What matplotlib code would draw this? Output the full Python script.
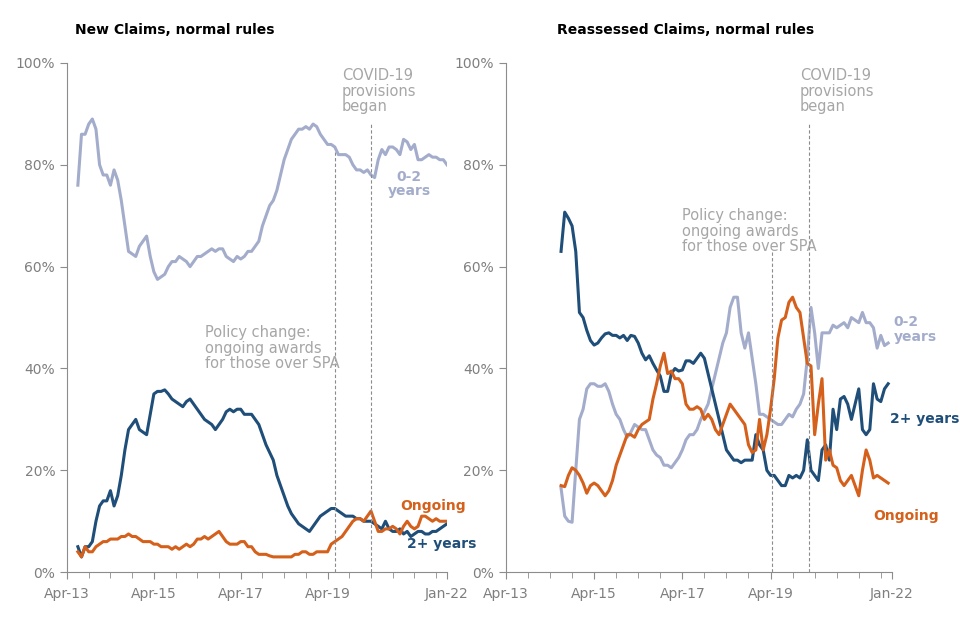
import numpy as np
import matplotlib
matplotlib.use("Agg")
import matplotlib.pyplot as plt

# months since Apr-13
left_months = list(range(3, 106))
left_0_2 = [76,86,86,88,89,87,80,78,78,76,79,77,73,68,63,62.5,62,64,65,66,62,59,57.5,58,58.5,60,61,61,62,61.5,61,60,61,62,62,62.5,63,63.5,63,63.5,63.5,62,61.5,61,62,61.5,62,63,63,64,65,68,70,72,73,75,78,81,83,85,86,87,87,87.5,87,88,87.5,86,85,84,84,83.5,82,82,82,81.5,80,79,79,78.5,79,78,77.5,81,83,82,83.5,83.5,83,82,85,84.5,83,84,81,81,81.5,82,81.5,81.5,81,81,80]
left_2plus = [5,3,5,5,6,10,13,14,14,16,13,15,19,24,28,29,30,28,27.5,27,31,35,35.5,35.5,35.8,35,34,33.5,33,32.5,33.5,34,33,32,31,30,29.5,29,28,29,30,31.5,32,31.5,32,32,31,31,31,30,29,27,25,23.5,22,19,17,15,13,11.5,10.5,9.5,9,8.5,8,9,10,11,11.5,12,12.5,12.5,12,11.5,11,11,11,10.5,10.5,10,10,10,9.5,9,8.5,10,8.5,8,8,8.5,7.5,8,7,7.5,8,8,7.5,7.5,8,8,8.5,9,9.5]
left_ongoing = [4,3,5,4,4,5,5.5,6,6,6.5,6.5,6.5,7,7,7.5,7,7,6.5,6,6,6,5.5,5.5,5,5,5,4.5,5,4.5,5,5.5,5,5.5,6.5,6.5,7,6.5,7,7.5,8,7,6,5.5,5.5,5.5,6,6,5,5,4,3.5,3.5,3.5,3.2,3,3,3,3,3,3,3.5,3.5,4,4,3.5,3.5,4,4,4,4,5.5,6,6.5,7,8,9,10,10.5,10.5,10,11,12,10,8,8,8.5,8.5,9,8.5,7.5,9,10,9,8.5,9,11,11,10.5,10,10.5,10,10,10]

right_months = list(range(15, 105))
right_0_2 = [16.5,11,10,9.8,20,30,32,36,37,37,36.5,36.5,37,35.5,33,31,30,28,26.5,27.5,29,28.5,28,28,26,24,23,22.5,21,21,20.5,21.5,22.5,24,26,27,27,28,30,31.5,33,36,39,42,45,47,52,54,54,47,44,47,42,37,31,31,30.5,30,29.5,29,29,30,31,30.5,32,33,35,42,52,47,40,47,47,47,48.5,48,48.5,49,48,50,49.5,49,51,49,49,48,44,46.5,44.5,45]
right_2plus = [63,70.7,69.5,68,63,51,50,47.5,45.5,44.6,45,46,46.8,47,46.5,46.5,46,46.5,45.5,46.5,46.3,45,43,41.7,42.5,41,39.7,38.5,35.5,35.5,39,40,39.5,39.7,41.5,41.5,41,42,43,42,39,36,33,30,27,24,23,22,22,21.5,22,22,22,27,25,24,20,19,19,18,17,17,19,18.5,19,18.5,20,26,20,19,18,24,25,22,32,28,34,34.5,33,30,33,36,28,27,28,37,34,33.5,36,37]
right_ongoing = [17,16.8,19,20.5,20,19,17.5,15.5,17,17.5,17,16,15,16,18,21,23,25,27,27,26.5,28,29,29.5,30,34,37,40.5,43,39,39.5,38,38,37,33,32,32,32.5,32,30,31,30,28,27,29,31,33,32,31,30,29,25,23.5,24,30,24,27,32,38,46,49.5,50,53,54,52,51,46,41,40.5,27,33,38,22,24,21,20.5,18,17,18,19,17,15,20,24,22,18.5,19,18.5,18,17.5]

tick_pos = [0, 24, 48, 72, 105]
tick_labels = ["Apr-13", "Apr-15", "Apr-17", "Apr-19", "Jan-22"]

C_LIGHT = "#A3ADCB"
C_NAVY = "#1F4E79"
C_ORANGE = "#D5601B"
GRAY = "#8C8C8C"
TGRAY = "#A6A6A6"

fig = plt.figure(figsize=(9.6, 6.4), dpi=100)
axL = fig.add_axes([0.0698, 0.106, 0.3958, 0.7956])
axR = fig.add_axes([0.527, 0.106, 0.402, 0.7956])

def style(ax):
    ax.set_xlim(0, 105)
    ax.set_ylim(0, 100)
    ax.set_yticks(range(0, 101, 20))
    ax.set_yticklabels([f"{v}%" for v in range(0, 101, 20)])
    ax.set_xticks(tick_pos)
    ax.set_xticklabels(tick_labels)
    ax.set_xticks(list(range(0, 105, 6)), minor=True)
    for s in ["top", "right"]:
        ax.spines[s].set_visible(False)
    for s in ["left", "bottom"]:
        ax.spines[s].set_color(GRAY)
    ax.tick_params(axis="both", which="both", colors=GRAY, labelcolor="#7F7F7F",
                   direction="out", labelsize=10)
    ax.tick_params(axis="x", which="major", length=5, pad=6)
    ax.tick_params(axis="x", which="minor", length=4)
    ax.tick_params(axis="y", length=5)

for ax in (axL, axR):
    style(ax)

lw = 2.2
axL.plot(left_months, left_0_2, color=C_LIGHT, lw=lw)
axL.plot(left_months, left_2plus, color=C_NAVY, lw=lw)
axL.plot(left_months, left_ongoing, color=C_ORANGE, lw=lw)
axR.plot(right_months, right_0_2, color=C_LIGHT, lw=lw)
axR.plot(right_months, right_2plus, color=C_NAVY, lw=lw)
axR.plot(right_months, right_ongoing, color=C_ORANGE, lw=lw)

dash = dict(color=GRAY, lw=0.8, ls=(0, (3, 2)))
axL.plot([74, 74], [0, 83], **dash)
axL.plot([84, 84], [0, 88], **dash)
axR.plot([72.5, 72.5], [0, 63], **dash)
axR.plot([82.5, 82.5], [0, 88], **dash)

fig.text(0.078, 0.953, "New Claims, normal rules", fontsize=10, fontweight="bold", va="center")
fig.text(0.58, 0.953, "Reassessed Claims, normal rules", fontsize=10, fontweight="bold", va="center")

tf = dict(fontsize=10.5, color=TGRAY, linespacing=1.05)
axL.text(76, 99, "COVID-19\nprovisions\nbegan", va="top", ha="left", **tf)
axL.text(38, 48.5, "Policy change:\nongoing awards\nfor those over SPA", va="top", ha="left", **tf)
axR.text(80, 99, "COVID-19\nprovisions\nbegan", va="top", ha="left", **tf)
axR.text(48, 71.5, "Policy change:\nongoing awards\nfor those over SPA", va="top", ha="left", **tf)

bf = dict(fontsize=10, fontweight="bold", linespacing=1.05, clip_on=False)
axL.text(94.5, 79, "0-2\nyears", color=C_LIGHT, ha="center", va="top", **bf)
axL.text(92, 13, "Ongoing", color=C_ORANGE, ha="left", va="center", **bf)
axL.text(94, 5.5, "2+ years", color=C_NAVY, ha="left", va="center", **bf)
axR.text(105.5, 50.5, "0-2\nyears", color=C_LIGHT, ha="left", va="top", **bf)
axR.text(104.5, 30, "2+ years", color=C_NAVY, ha="left", va="center", **bf)
axR.text(100, 11, "Ongoing", color=C_ORANGE, ha="left", va="center", **bf)

fig.savefig("out.png", dpi=100)
